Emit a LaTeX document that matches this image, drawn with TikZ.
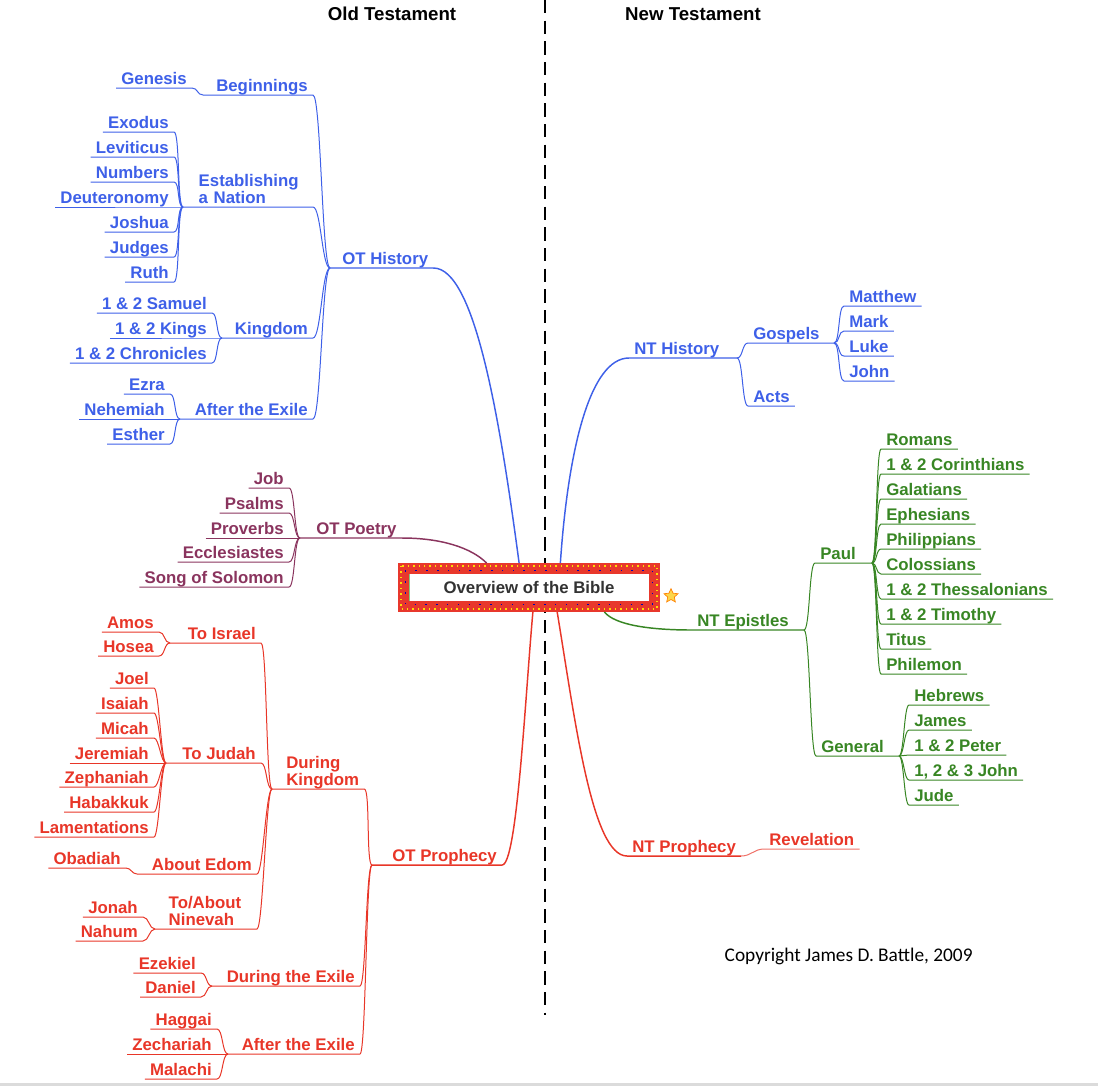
\documentclass[tikz,border=0pt]{standalone}
\usepackage{fontspec}
\setmainfont{Liberation Sans}
\newfontfamily\copyfont{Carlito}
\usetikzlibrary{shapes.geometric}

\definecolor{otblue}{RGB}{62,96,232}
\definecolor{otpurple}{RGB}{138,52,94}
\definecolor{otred}{RGB}{232,54,40}
\definecolor{ntgreen}{RGB}{56,134,36}
\definecolor{framered}{RGB}{232,56,44}

\begin{document}
\begin{tikzpicture}[x=0.75pt, y=-0.75pt,
    topic/.style={font=\bfseries\fontsize{12.6}{12.8}\selectfont, inner xsep=3.75pt, inner ysep=2.5pt, text depth=0pt, align=left},
    lefttopic/.style={topic, anchor=south east},
    righttopic/.style={topic, anchor=south west},
    twolines/.style={text depth=12.8pt},
    link/.style={line width=0.75pt},
    trunk/.style={line width=1.1pt},
    centerbox/.style={fill=white, draw=framered, line width=8.25pt, minimum width=188.25pt, minimum height=28.5pt, inner sep=0pt, text=black!80, font=\bfseries\fontsize{12.6}{14}\selectfont}
  ]
  \useasboundingbox (0,0) rectangle (1098,1086);
  \fill[black!14] (0,1083) rectangle (1098,1086);

  % headings and divider
  \node[font=\bfseries\fontsize{14}{16}\selectfont] (oldt) at (392,14) {Old Testament};
  \node[font=\bfseries\fontsize{14}{16}\selectfont] (newt) at (693,14) {New Testament};
  \draw[line width=1.9pt, dash pattern=on 10pt off 5.5pt] (545,0) -- (545,1015);

  % central topic
  \node[centerbox] (ctr) at (529,587.5) {Overview of the Bible};
  \draw[yellow!80!orange, line width=1.1pt, dash pattern=on 1.1pt off 3pt] ([shift={(2.2pt,-2.2pt)}]ctr.north west) rectangle ([shift={(-2.2pt,2.2pt)}]ctr.south east);
  \draw[blue!70!black, line width=1.1pt, dash pattern=on 1.1pt off 7pt] ([shift={(5.6pt,-5.6pt)}]ctr.north west) rectangle ([shift={(-5.6pt,5.6pt)}]ctr.south east);
  \draw[green!60!black!50, line width=0.6pt] ([shift={(8.5pt,-8.5pt)}]ctr.north west) -- ([shift={(8.5pt,8.5pt)}]ctr.south west);
  \node[star, star points=5, star point ratio=2.1, minimum size=11pt, inner sep=0pt, fill=yellow!60!orange!70, draw=orange, line width=0.5pt] (mark) at (671,596) {};

  % OT History
  \coordinate (othj) at (330,268);
  \node[righttopic, otblue] (oth) at (337,268) {OT History};
  \draw[otblue, trunk] (othj) -- (oth.south east) .. controls (475,268) and (500,420) .. (ctr.112);

  \coordinate (begj) at (203,95);
  \node[lefttopic, otblue] (beg) at (313,95) {Beginnings};
  \draw[otblue, link] (begj) -- (beg.south east) .. controls +(8,0) and +(-8,0) .. (othj);
  \node[lefttopic, otblue] (gen) at (192,88) {Genesis};
  \draw[otblue, link] (gen.south west) -- (gen.south east) .. controls +(6,0) and +(-6,0) .. (begj);

  \coordinate (estabj) at (183,207);
  \node[lefttopic, twolines, otblue, text width=81.75pt] (estab) at (313,207) {Establishing\\a Nation};
  \draw[otblue, link] (estabj) -- (estab.south east) .. controls +(8,0) and +(-8,0) .. (othj);
  \foreach \nm/\y/\txt in {exo/132/Exodus, lev/157/Leviticus, num/182/Numbers, deu/207/Deuteronomy, jos/232/Joshua, jdg/257/Judges, rut/282/Ruth} {
    \node[lefttopic, otblue] (\nm) at (174,\y) {\txt};
    \draw[otblue, link] (\nm.south west) -- (\nm.south east) .. controls +(6,0) and +(-6,0) .. (estabj);
  }

  \coordinate (kingj) at (222,338);
  \node[lefttopic, otblue] (king) at (313,338) {Kingdom};
  \draw[otblue, link] (kingj) -- (king.south east) .. controls +(8,0) and +(-8,0) .. (othj);
  \foreach \nm/\y/\txt in {sam/313/1 \& 2 Samuel, kgs/338/1 \& 2 Kings, chr/363/1 \& 2 Chronicles} {
    \node[lefttopic, otblue] (\nm) at (212,\y) {\txt};
    \draw[otblue, link] (\nm.south west) -- (\nm.south east) .. controls +(6,0) and +(-6,0) .. (kingj);
  }

  \coordinate (retj) at (180,419);
  \node[lefttopic, otblue] (ret) at (313,419) {After the Exile};
  \draw[otblue, link] (retj) -- (ret.south east) .. controls +(8,0) and +(-8,0) .. (othj);
  \foreach \nm/\y/\txt in {ezr/394/Ezra, neh/419/Nehemiah, esth/444/Esther} {
    \node[lefttopic, otblue] (\nm) at (170,\y) {\txt};
    \draw[otblue, link] (\nm.south west) -- (\nm.south east) .. controls +(6,0) and +(-6,0) .. (retj);
  }

  % OT Poetry
  \coordinate (poetj) at (300,538);
  \node[righttopic, otpurple] (poet) at (311,538) {OT Poetry};
  \draw[otpurple, trunk] (poetj) -- (poet.south east) .. controls +(40,0) and +(-15,-15) .. (ctr.150);
  \foreach \nm/\y/\txt in {job/488/Job, psa/513/Psalms, pro/538/Proverbs, ecc/562/Ecclesiastes, sos/587/Song of Solomon} {
    \node[lefttopic, otpurple] (\nm) at (289,\y) {\txt};
    \draw[otpurple, link] (\nm.south west) -- (\nm.south east) .. controls +(6,0) and +(-6,0) .. (poetj);
  }

  % OT Prophecy
  \coordinate (prophj) at (372,865);
  \node[righttopic, otred] (proph) at (387,865) {OT Prophecy};
  \draw[otred, trunk] (prophj) -- (proph.south east) .. controls (517,865) and (525,700) .. (ctr.279);

  \coordinate (dkingj) at (272,789);
  \node[righttopic, otred] (dking) at (281,789) {During\\Kingdom};
  \draw[otred, link] (dkingj) -- (dking.south east) .. controls +(6,0) and +(-6,0) .. (prophj);

  \coordinate (isrj) at (170,643);
  \node[lefttopic, otred] (isr) at (261,643) {To Israel};
  \draw[otred, link] (isrj) -- (isr.south east) .. controls +(6,0) and +(-6,0) .. (dkingj);
  \foreach \nm/\y/\txt in {amo/632/Amos, hos/656/Hosea} {
    \node[lefttopic, otred] (\nm) at (159,\y) {\txt};
    \draw[otred, link] (\nm.south west) -- (\nm.south east) .. controls +(6,0) and +(-6,0) .. (isrj);
  }

  \coordinate (judj) at (166,763);
  \node[lefttopic, otred] (jud) at (261,763) {To Judah};
  \draw[otred, link] (judj) -- (jud.south east) .. controls +(6,0) and +(-6,0) .. (dkingj);
  \foreach \nm/\y/\txt in {joe/688/Joel, isa/713/Isaiah, mic/738/Micah, jer/763/Jeremiah, zep/787/Zephaniah, hab/812/Habakkuk, lam/837/Lamentations} {
    \node[lefttopic, otred] (\nm) at (154,\y) {\txt};
    \draw[otred, link] (\nm.south west) -- (\nm.south east) .. controls +(5,0) and +(-5,0) .. (judj);
  }

  \coordinate (edomj) at (137,874);
  \node[lefttopic, otred] (edom) at (257,874) {About Edom};
  \draw[otred, link] (edomj) -- (edom.south east) .. controls +(6,0) and +(-6,0) .. (dkingj);
  \node[lefttopic, otred] (oba) at (126,868) {Obadiah};
  \draw[otred, link] (oba.south west) -- (oba.south east) .. controls +(5,0) and +(-5,0) .. (edomj);

  \coordinate (ninj) at (155,929);
  \node[lefttopic, twolines, otred, text width=62.25pt] (nin) at (257,929) {To/About\\Ninevah};
  \draw[otred, link] (ninj) -- (nin.south east) .. controls +(6,0) and +(-6,0) .. (dkingj);
  \foreach \nm/\y/\txt in {jon/917/Jonah, nah/941/Nahum} {
    \node[lefttopic, otred] (\nm) at (143,\y) {\txt};
    \draw[otred, link] (\nm.south west) -- (\nm.south east) .. controls +(6,0) and +(-6,0) .. (ninj);
  }

  \coordinate (exilej) at (212,986);
  \node[lefttopic, otred] (exile) at (360,986) {During the Exile};
  \draw[otred, link] (exilej) -- (exile.south east) .. controls +(6,0) and +(-6,0) .. (prophj);
  \foreach \nm/\y/\txt in {eze/973/Ezekiel, dan/997/Daniel} {
    \node[lefttopic, otred] (\nm) at (201,\y) {\txt};
    \draw[otred, link] (\nm.south west) -- (\nm.south east) .. controls +(6,0) and +(-6,0) .. (exilej);
  }

  \coordinate (postj) at (228,1054);
  \node[lefttopic, otred] (post) at (360,1054) {After the Exile};
  \draw[otred, link] (postj) -- (post.south east) .. controls +(6,0) and +(-6,0) .. (prophj);
  \foreach \nm/\y/\txt in {hag/1029/Haggai, zec/1054/Zechariah, mal/1079/Malachi} {
    \node[lefttopic, otred] (\nm) at (217,\y) {\txt};
    \draw[otred, link] (\nm.south west) -- (\nm.south east) .. controls +(6,0) and +(-6,0) .. (postj);
  }

  % NT History
  \coordinate (nthj) at (737,358);
  \node[righttopic, otblue] (nth) at (629,358) {NT History};
  \draw[otblue, trunk] (ctr.38) .. controls (568,450) and (590,358) .. (nth.south west) -- (nthj);

  \coordinate (gosj) at (834,343);
  \node[righttopic, otblue] (gos) at (748,343) {Gospels};
  \draw[otblue, link] (nthj) .. controls +(6,0) and +(-6,0) .. (gos.south west) -- (gosj);
  \node[righttopic, otblue] (acts) at (748,406) {Acts};
  \draw[otblue, link] (nthj) .. controls +(6,0) and +(-6,0) .. (acts.south west) -- (acts.south east);
  \foreach \nm/\y/\txt in {mat/306/Matthew, mar/331/Mark, luk/356/Luke, joh/381/John} {
    \node[righttopic, otblue] (\nm) at (844,\y) {\txt};
    \draw[otblue, link] (gosj) .. controls +(6,0) and +(-6,0) .. (\nm.south west) -- (\nm.south east);
  }

  % NT Epistles
  \coordinate (eplj) at (804,630);
  \node[righttopic, ntgreen] (epl) at (692,630) {NT Epistles};
  \draw[ntgreen, trunk] (ctr.342) .. controls (615,625) and (650,630) .. (epl.south west) -- (eplj);

  \coordinate (paulj) at (872,563);
  \node[righttopic, ntgreen] (paul) at (815,563) {Paul};
  \draw[ntgreen, link] (eplj) .. controls +(6,0) and +(-6,0) .. (paul.south west) -- (paulj);
  \foreach \nm/\y/\txt in {rom/449/Romans, cor/474/1 \& 2 Corinthians, gal/499/Galatians, eph/524/Ephesians, phi/549/Philippians, col/574/Colossians, the/599/1 \& 2 Thessalonians, tim/624/1 \& 2 Timothy, tit/649/Titus, phm/674/Philemon} {
    \node[righttopic, ntgreen] (\nm) at (881,\y) {\txt};
    \draw[ntgreen, link] (paulj) .. controls +(5,0) and +(-5,0) .. (\nm.south west) -- (\nm.south east);
  }

  \coordinate (genlj) at (899,756);
  \node[righttopic, ntgreen] (genl) at (816,756) {General};
  \draw[ntgreen, link] (eplj) .. controls +(6,0) and +(-6,0) .. (genl.south west) -- (genlj);
  \foreach \nm/\y/\txt in {heb/705/Hebrews, jas/730/James, pet/755/1 \& 2 Peter, jhn/780/{1, 2 \& 3 John}, jude/805/Jude} {
    \node[righttopic, ntgreen] (\nm) at (909,\y) {\txt};
    \draw[ntgreen, link] (genlj) .. controls +(5,0) and +(-5,0) .. (\nm.south west) -- (\nm.south east);
  }

  % NT Prophecy
  \node[righttopic, otred] (ntp) at (627,856) {NT Prophecy};
  \draw[otred, trunk] (ctr.319) .. controls (575,720) and (592,856) .. (ntp.south west) -- (ntp.south east);
  \node[righttopic, otred] (rev) at (764,849) {Revelation};
  \draw[otred!70, link] (ntp.south east) .. controls +(10,0) and +(-10,0) .. (rev.south west) -- (rev.south east);

  \node[anchor=west, font=\copyfont\fontsize{14.5}{16}\selectfont] (copy) at (720,956) {Copyright James D. Battle, 2009};
\end{tikzpicture}
\end{document}
